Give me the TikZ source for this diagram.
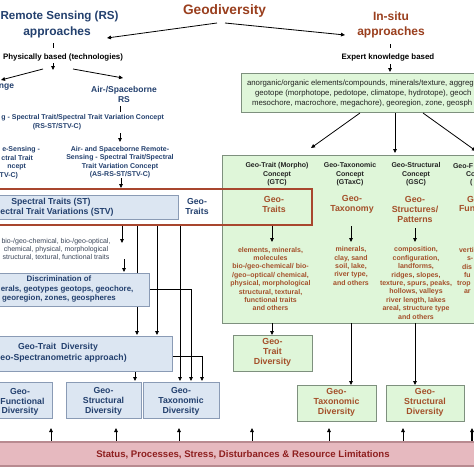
\documentclass[tikz,border=0pt]{standalone}
\usepackage{fontspec}
\setmainfont{Liberation Sans}
\usetikzlibrary{arrows.meta}
\newcommand\myfs[2]{\fontsize{#1}{#2}\selectfont}
\definecolor{bluetxt}{HTML}{23406E}
\definecolor{bfill}{HTML}{DCE6F2}
\definecolor{bbord}{HTML}{8A9BB5}
\definecolor{gfill}{HTML}{DFF6D9}
\definecolor{gbord}{HTML}{7E907E}
\definecolor{browntxt}{HTML}{A4502A}
\definecolor{titlered}{HTML}{9A3F1E}
\definecolor{brownline}{HTML}{A8462E}
\definecolor{pfill}{HTML}{E6B9BF}
\definecolor{pbord}{HTML}{B88A90}
\definecolor{ptxt}{HTML}{8E1F1F}
\definecolor{graytxt}{HTML}{3A4558}
\definecolor{darktxt}{HTML}{222222}
\begin{document}
\begin{tikzpicture}[x=1pt,y=-1pt,
  every node/.style={inner sep=0pt,outer sep=0pt},
  txt/.style={align=center},
  bluebox/.style={draw=bbord,fill=bfill,line width=1pt},
  greenbox/.style={draw=gbord,fill=gfill,line width=1pt},
  ln/.style={line width=0.8pt,draw=black},
  arr/.style={ln,-{Triangle[length=4pt,width=3.6pt]}},
  bt/.style={txt,text=bluetxt,font=\myfs{8.7}{10}\bfseries},
  bsmall/.style={txt,text=bluetxt,font=\myfs{7}{8.4}\bfseries},
  bmid/.style={txt,text=bluetxt,font=\myfs{7.9}{9.5}\bfseries},
  gt/.style={txt,text=browntxt,font=\myfs{8.8}{10}\bfseries},
  gsmall/.style={txt,text=browntxt,font=\myfs{7}{8.4}\bfseries},
  concept/.style={txt,text=darktxt,font=\myfs{7}{8.5}\bfseries},
  toptxt/.style={text=darktxt,font=\myfs{7.8}{10},anchor=west}]

\useasboundingbox (0,0) rectangle (474,474);
\fill[white] (0,0) rectangle (474,474);
\clip (0,0) rectangle (474,474);

% background green boxes
\node[greenbox,minimum width=258,minimum height=168] (bigg) at (351,239) {};
\node[greenbox,minimum width=239,minimum height=39] (topg) at (360.5,92.5) {};

% named coordinates for connector ends
\coordinate (gL) at (217,23);   \coordinate (rsA) at (107,38);
\coordinate (gR) at (225,23);   \coordinate (isA) at (345,35);
\coordinate (rsT1) at (53,43);  \coordinate (rsT2) at (53,48);
\coordinate (isT1) at (390,44); \coordinate (isT2) at (390,48);
\coordinate (phA1) at (53,63);  \coordinate (phA2) at (53,70);
\coordinate (brA1) at (43,69);  \coordinate (brA2) at (1,80);
\coordinate (brB1) at (73,69);  \coordinate (brB2) at (123,78);
\coordinate (airT1) at (120,106); \coordinate (airT2) at (120,112);
\coordinate (rsc1) at (120,133); \coordinate (rsc2) at (120,142);
\coordinate (asA1) at (121,178); \coordinate (asA2) at (121,188);
\coordinate (exA1) at (390,64); \coordinate (exA2) at (390,72);
\coordinate (tg1a) at (360,113); \coordinate (tg1b) at (311,148);
\coordinate (tg2a) at (395,113); \coordinate (tg2b) at (395,153);
\coordinate (tg3a) at (423,113); \coordinate (tg3b) at (476,151);
\coordinate (sb1) at (122,225); \coordinate (sb2) at (122,243);
\coordinate (bd1) at (124,259); \coordinate (bd2) at (124,272);
\coordinate (v1a) at (137,225); \coordinate (v1b) at (137,335);
\coordinate (v2a) at (157,225); \coordinate (v2b) at (157,335);
\coordinate (v3a) at (180,225); \coordinate (v3b) at (180,381);
\coordinate (d1) at (149,289);  \coordinate (d2) at (191,381);
\coordinate (t1) at (172,356);  \coordinate (t2) at (202,381);
\coordinate (s1) at (135,371);  \coordinate (s2) at (135,381);
\coordinate (ga1) at (272,226); \coordinate (ga2) at (272,242);
\coordinate (gb1) at (351,226); \coordinate (gb2) at (351,242);
\coordinate (gc1) at (415,228); \coordinate (gc2) at (415,242);
\coordinate (gd1) at (272,323); \coordinate (gd2) at (272,335);
\coordinate (ge1) at (351,323); \coordinate (ge2) at (351,385);
\coordinate (gf1) at (415,323); \coordinate (gf2) at (415,385);

% connectors
\draw[arr] (gL) -- (rsA);
\draw[arr] (gR) -- (isA);
\draw[ln] (rsT1) -- (rsT2);
\draw[ln] (isT1) -- (isT2);
\draw[arr] (phA1) -- (phA2);
\draw[arr] (brA1) -- (brA2);
\draw[arr] (brB1) -- (brB2);
\draw[ln] (airT1) -- (airT2);
\draw[arr] (rsc1) -- (rsc2);
\draw[arr] (asA1) -- (asA2);
\draw[arr] (exA1) -- (exA2);
\draw[arr] (tg1a) -- (tg1b);
\draw[arr] (tg2a) -- (tg2b);
\draw[arr] (tg3a) -- (tg3b);
\draw[arr] (sb1) -- (sb2);
\draw[arr] (bd1) -- (bd2);
\draw[arr] (v1a) -- (v1b);
\draw[arr] (v2a) -- (v2b);
\draw[arr] (v3a) -- (v3b);
\draw[arr] (d1) -| (d2);
\draw[arr] (t1) -| (t2);
\draw[arr] (s1) -- (s2);
\draw[arr] (ga1) -- (ga2);
\draw[arr] (gb1) -- (gb2);
\draw[arr] (gc1) -- (gc2);
\draw[arr] (gd1) -- (gd2);
\draw[arr] (ge1) -- (ge2);
\draw[arr] (gf1) -- (gf2);
\foreach \px/\nm in {51/pa,116/pb,179/pc,252/pd,329/pe,403/pf}{
  \coordinate (\nm1) at (\px,442); \coordinate (\nm2) at (\px,428);
  \draw[arr] (\nm1) -- (\nm2);
}
\coordinate (pg1) at (472,442); \coordinate (pg2) at (472,428);
\draw[arr,line width=1.5pt] (pg1) -- (pg2);

% boxes
\node[bluebox,minimum width=254,minimum height=24] (spec) at (51,207) {};
\node[bluebox,minimum width=180,minimum height=33] (disc) at (59,289.5) {};
\node[bluebox,minimum width=228,minimum height=35] (gtd) at (58,353.5) {};
\node[bluebox,minimum width=62,minimum height=36] (gfd) at (21,400) {};
\node[bluebox,minimum width=75,minimum height=36] (gsd) at (103.5,400) {};
\node[bluebox,minimum width=76,minimum height=36] (gtx) at (181,400) {};
\node[greenbox,minimum width=79,minimum height=36] (gtdg) at (272.5,353) {};
\node[greenbox,minimum width=79,minimum height=36] (gtxg) at (336.5,403) {};
\node[greenbox,minimum width=78,minimum height=36] (gsdg) at (425,403) {};
\node[draw=pbord,fill=pfill,line width=1.2pt,minimum width=485,minimum height=24] (pink) at (237.5,454) {};
\node[draw=brownline,line width=1.4pt,minimum width=317,minimum height=36] (geotr) at (153.5,207) {};

% titles
\node[txt,text=titlered,font=\myfs{13.7}{15}\bfseries] (geo) at (224.5,11) {Geodiversity};
\node[text=bluetxt,font=\myfs{11.6}{15}\bfseries,anchor=west] (rsA1) at (0.6,17) {Remote Sensing (RS)};
\node[text=bluetxt,font=\myfs{12}{15}\bfseries] (rsA2) at (57,32) {approaches};
\node[txt,text=titlered,font=\myfs{12}{15}\bfseries] (is) at (391,24.5) {In-situ\\approaches};
\node[txt,font=\myfs{7.9}{9}\bfseries] (phys) at (63,57) {Physically based (technologies)};
\node[txt,font=\myfs{7.9}{9}\bfseries] (expert) at (388,57) {Expert knowledge based};

% left RS branch
\node[txt,text=bluetxt,font=\myfs{8.5}{10}\bfseries,anchor=east] (cr) at (14,87) {nge};
\node[txt,text=bluetxt,font=\myfs{8.5}{10}\bfseries] (air) at (124,94) {Air-/Spaceborne\\RS};
\node[bsmall,anchor=east] (rsc) at (164,118) {g - Spectral Trait/Spectral Trait Variation Concept};
\node[bsmall] (rscb) at (57,127) {(RS-ST/STV-C)};
\node[bsmall,anchor=east] (crA) at (40,150) {e-Sensing -};
\node[bsmall,anchor=east] (crB) at (33,158.4) {ctral Trait};
\node[bsmall,anchor=east] (crC) at (26,166.8) {ncept};
\node[bsmall,anchor=east] (crD) at (18,175.2) {TV-C)};
\node[bsmall] (asrs) at (120,162) {Air- and Spaceborne Remote-\\Sensing - Spectral Trait/Spectral\\Trait Variation Concept\\(AS-RS-ST/STV-C)};

% blue box texts
\node[bt] (specA) at (51,202) {Spectral Traits (ST)};
\node[bt,anchor=west] (specB) at (0.5,212) {ectral Trait Variations (STV)};
\node[bt] (gtl) at (197,207) {Geo-\\Traits};
\node[txt,text=graytxt,font=\myfs{7}{8}] (bio) at (56,249) {bio-/geo-chemical, bio-/geo-optical,\\chemical, physical, morphological\\structural, textural, functional traits};
\node[bmid] (discA) at (59,279) {Discrimination of};
\node[bmid,anchor=west] (discB) at (0.8,289) {erals, geotypes geotops, geochore,};
\node[bmid] (discC) at (59,298.5) {georegion, zones, geospheres};
\node[bt] (gtdA) at (58,347) {Geo-Trait~ Diversity};
\node[bt,anchor=west] (gtdB) at (0.5,358) {eo-Spectranometric approach)};
\node[bt] (gfdA) at (20,391) {Geo-};
\node[bt,anchor=west] (gfdB) at (0.5,401) {Functional};
\node[bt] (gfdC) at (20,411) {Diversity};
\node[bt] (gsdT) at (103.5,401) {Geo-\\Structural\\Diversity};
\node[bt] (gtxT) at (181,401) {Geo-\\Taxonomic\\Diversity};

% top green box texts
\node[toptxt] (tgA) at (247,83) {anorganic/organic elements/compounds, minerals/texture, aggreg};
\node[toptxt] (tgB) at (255,93) {geotope (morphotope, pedotope, climatope, hydrotope), geoch};
\node[toptxt] (tgC) at (252,103) {mesochore, macrochore, megachore), georegion, zone, geosph};

% concepts
\node[concept] (cGT) at (277,174.5) {Geo-Trait (Morpho)\\Concept\\(GTC)};
\node[concept] (cGX) at (350,174.5) {Geo-Taxonomic\\Concept\\(GTaxC)};
\node[concept] (cGS) at (416,174.5) {Geo-Structural\\Concept\\(GSC)};
\node[concept,anchor=west] (cGFa) at (453,166) {Geo-F};
\node[concept,anchor=west] (cGFb) at (466,174.5) {Co};
\node[concept,anchor=west] (cGFc) at (470,183) {(};
\node[gt] (lGT) at (274,204) {Geo-\\Traits};
\node[gt] (lGX) at (352,204) {Geo-\\Taxonomy};
\node[gt] (lGS) at (415,209) {Geo-\\Structures/\\Patterns};
\node[gt,anchor=west] (lGFa) at (467,199) {G};
\node[gt,anchor=west] (lGFb) at (459,209) {Fun};
\node[gsmall] (iGT) at (270.5,279) {elements, minerals,\\molecules\\bio-/geo-chemical/ bio-\\/geo--optical/ chemical,\\physical, morphological\\structural, textural,\\functional traits\\and others};
\node[gsmall] (iGX) at (351,266) {minerals,\\clay, sand\\soil, lake,\\river type,\\and others};
\node[gsmall] (iGS) at (416,283) {composition,\\configuration,\\landforms,\\ridges, slopes,\\texture, spurs, peaks,\\hollows, valleys\\river length, lakes\\areal, structure type\\and others};
\node[gsmall,anchor=west] (iF1) at (459,250) {verti};
\node[gsmall,anchor=west] (iF2) at (467,258.4) {s-};
\node[gsmall,anchor=west] (iF3) at (462,266.8) {dis};
\node[gsmall,anchor=west] (iF4) at (464,275.2) {fu};
\node[gsmall,anchor=west] (iF5) at (457,283.6) {trop};
\node[gsmall,anchor=west] (iF6) at (464,292) {ar};
\node[gt] (gtdgT) at (272.5,352) {Geo-\\Trait\\Diversity};
\node[gt] (gtxgT) at (336.5,402) {Geo-\\Taxonomic\\Diversity};
\node[gt] (gsdgT) at (425,402) {Geo-\\Structural\\Diversity};

% pink bar text
\node[text=ptxt,font=\myfs{9.6}{11}\bfseries] (pinkT) at (243,455) {Status, Processes, Stress, Disturbances \& Resource Limitations};
\end{tikzpicture}
\end{document}
